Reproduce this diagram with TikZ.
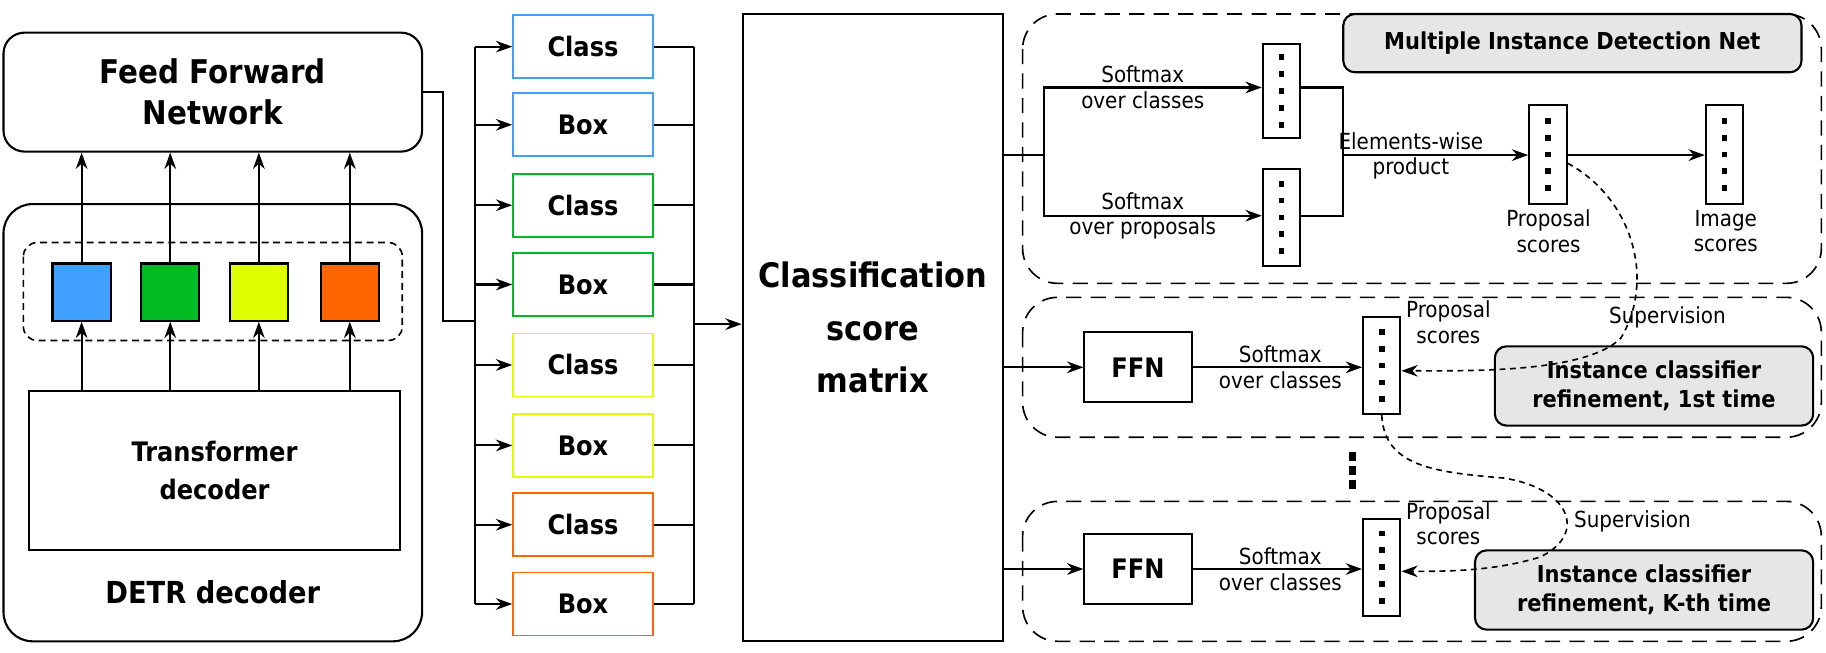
\documentclass[tikz,border=0pt]{standalone}
\usepackage{fontspec}
\setmainfont{DejaVu Sans Condensed}
\usetikzlibrary{arrows.meta,calc}
\definecolor{cblue}{HTML}{3FA0FF}
\definecolor{cgreen}{HTML}{00BB22}
\definecolor{cyellow}{HTML}{DDFF00}
\definecolor{corange}{HTML}{FF6600}
\definecolor{gbox}{HTML}{E6E6E6}
\begin{document}
\begin{tikzpicture}[x=1pt,y=-1pt,line width=1.8pt,
  >={Stealth[length=14pt,width=10pt]},
  bt/.style={font=\fontsize{23}{28}\selectfont\bfseries},
  rt/.style={font=\fontsize{19}{25}\selectfont,align=center},
  cb/.style={draw,line width=1.4pt,minimum width=120pt,minimum height=54pt,bt},
  sq/.style={draw,minimum width=50pt,minimum height=49pt,inner sep=0pt},
  col/.style={draw,minimum width=32pt,inner sep=0pt},
  gb/.style={draw,fill=gbox,rounded corners=10pt,align=center,font=\fontsize{20}{25}\selectfont\bfseries},
  dsh/.style={dash pattern=on 13pt off 8pt,rounded corners=30pt,line width=1.4pt}]
\useasboundingbox (0,0) rectangle (1566,560);
% left
\node[draw,rounded corners=18pt,minimum width=359pt,minimum height=102pt,align=center,font=\fontsize{28}{35}\selectfont\bfseries] (ffn) at (182.5,79) {Feed Forward\\Network};
\draw[rounded corners=25pt] (3,175) rectangle (362,550);
\node[font=\fontsize{26}{30}\selectfont\bfseries] (detr) at (182.5,508) {DETR decoder};
\draw[dash pattern=on 6pt off 4pt,rounded corners=12pt,line width=1.4pt] (20,208) rectangle (345,292);
\node[draw,minimum width=318pt,minimum height=137pt,align=center,font=\fontsize{23}{32}\selectfont\bfseries] (td) at (184,403.5) {Transformer\\decoder};
\foreach \c/\x/\n in {cblue/70/s1,cgreen/146/s2,cyellow/222/s3,corange/300/s4}{
  \node[sq,fill=\c] (\n) at (\x,250.5) {};
  \draw[->] (\n.north) -- (\n.north |- ffn.south);
  \draw[->] (\n.south |- td.north) -- (\n.south);
}
% class/box
\foreach \i/\t/\c/\y in {1/Class/cblue/40,2/Box/cblue/107,3/Class/cgreen/176,4/Box/cgreen/244,5/Class/cyellow/313,6/Box/cyellow/382,7/Class/corange/450,8/Box/corange/518}{
  \node[cb,draw=\c] (b\i) at (500,\y) {\t};
  \draw[->] (407,\y) -- (b\i.west);
  \draw (b\i.east) -- (595,\y);
}
\draw (ffn.east |- 0,79) -- (380,79) -- (380,275) -- (407,275);
\draw (407,40) -- (407,518);
\draw (595,40) -- (595,518);
\node[draw,minimum width=223pt,minimum height=538pt,align=center,font=\fontsize{29}{45}\selectfont\bfseries] (mat) at (748.5,281) {Classification\\score\\matrix};
\draw[->] (595,278) -- (mat.west |- 0,278);
% MIDN
\draw[dsh] (877,12) rectangle (1562,243);
\node[gb,minimum width=393pt,minimum height=50pt] (midn) at (1348.5,37) {Multiple Instance Detection Net};
\node[col,minimum height=80pt] (c1) at (1099,78) {};
\node[col,minimum height=83pt] (c2) at (1099,186.5) {};
\node[col,minimum height=85pt] (c3) at (1327.5,132.5) {};
\node[col,minimum height=85pt] (c4) at (1479,132.5) {};
\draw (mat.east |- 0,133) -- (895,133);
\draw[->] (895,133) |- (c1.west |- 0,75);
\draw[->] (895,133) |- (c2.west |- 0,185);
\draw (c1.east |- 0,75) -- (1152,75) -- (1152,185) -- (c2.east |- 0,185);
\draw[->] (1152,133) -- (c3.west |- 0,133);
\draw[->] (c3.east |- 0,133) -- (c4.west |- 0,133);
\node[rt] at (980,75) {Softmax\\[-3pt]over classes};
\node[rt] at (980,185) {Softmax\\[-3pt]over proposals};
\node[rt,anchor=south] at (1210,133) {Elements-wise};
\node[rt,anchor=north] at (1210,131) {product};
\node[rt,anchor=north] at (1328,176) {Proposal\\[-3pt]scores};
\node[rt,anchor=north] at (1480,176) {Image\\[-3pt]scores};
% refinement 1
\draw[dsh] (877,255) rectangle (1562,375);
\node[draw,minimum width=92pt,minimum height=60pt,bt] (f1) at (976,315) {FFN};
\node[col,minimum height=83pt] (r1) at (1185,313.5) {};
\draw[->] (mat.east |- 0,315) -- (f1.west);
\draw[->] (f1.east) -- (r1.west |- f1.east);
\node[rt] at (1098,315) {Softmax\\[-3pt]over classes};
\node[rt,anchor=north west,inner sep=1pt] at (1204,256) {Proposal\\[-3pt]scores};
\node[rt] at (1430,272) {Supervision};
\node[gb,minimum width=273pt,minimum height=68pt] (g1) at (1418.5,331) {Instance classifier\\refinement, 1st time};
% dots
\foreach \yy in {388,400,412} \fill (1157,\yy) rectangle (1163,\yy+7);
% refinement K
\draw[dsh] (877,430) rectangle (1562,550);
\node[draw,minimum width=92pt,minimum height=60pt,bt] (f2) at (976,488) {FFN};
\node[col,minimum height=83pt] (r2) at (1185,486.5) {};
\draw[->] (mat.east |- 0,488) -- (f2.west);
\draw[->] (f2.east) -- (r2.west |- f2.east);
\node[rt] at (1098,488) {Softmax\\[-3pt]over classes};
\node[rt,anchor=north west,inner sep=1pt] at (1204,429) {Proposal\\[-3pt]scores};
\node[rt] at (1400,447) {Supervision};
\node[gb,minimum width=290pt,minimum height=68pt] (g2) at (1410,506) {Instance classifier\\refinement, K-th time};
% column dots
\foreach \n in {c1,c2,c3,c4,r1,r2}{
  \foreach \k in {-2,-1,0,1,2}
    \fill ($(\n.center)+(-2.5,\k*14.5-2.5)$) rectangle +(5,5);
}
% dashed supervision curves
\draw[->,dash pattern=on 5pt off 4pt,line width=1.4pt] (c3.east |- 0,140) .. controls (1400,170) and (1420,240) .. (1390,290) .. controls (1360,320) and (1260,318) .. (r1.east |- 0,318);
\draw[->,dash pattern=on 5pt off 4pt,line width=1.4pt] (r1.south) .. controls (1187,400) and (1230,405) .. (1290,410) .. controls (1350,420) and (1360,460) .. (1320,478) .. controls (1280,490) and (1240,490) .. (r2.east |- 0,490);
\end{tikzpicture}
\end{document}
